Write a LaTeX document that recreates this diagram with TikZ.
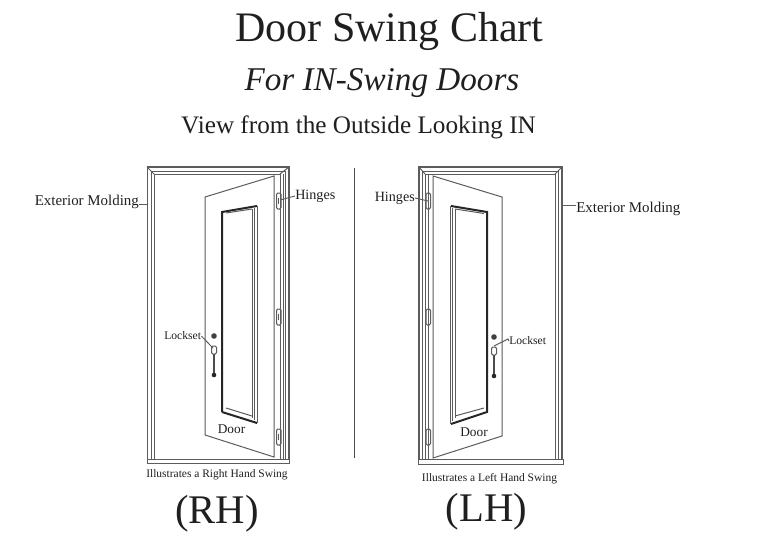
\documentclass[tikz,border=0pt]{standalone}
\usepackage{fontspec}
\setmainfont{Liberation Serif}
\definecolor{ink}{gray}{0.36}
\definecolor{txt}{gray}{0.12}
\tikzset{
  lbl/.style={inner sep=0pt,text=txt,font=\fontsize{11.2pt}{12pt}\selectfont},
  doorcap/.style={inner sep=0pt,text=txt,font=\fontsize{10pt}{11pt}\selectfont},
  hingecap/.style={inner sep=0pt,text=txt,font=\fontsize{10.6pt}{12pt}\selectfont},
  lockcap/.style={inner sep=0pt,text=txt,font=\fontsize{8.7pt}{10pt}\selectfont},
  illcap/.style={inner sep=0pt,text=txt,font=\fontsize{8.6pt}{10pt}\selectfont},
  big/.style={inner sep=0pt,text=txt,font=\fontsize{30.5pt}{32pt}\selectfont},
  thin line/.style={draw=ink,line width=0.75pt},
  med line/.style={draw=ink,line width=1.4pt},
  heavy line/.style={draw=black!85,line width=1.5pt},
  lead/.style={draw=ink,line width=0.7pt},
  divider/.style={draw=black!70,line width=0.6pt},
  handle/.style={draw=black!70,line width=2.2pt}
}
\begin{document}
\begin{tikzpicture}[x=0.75pt,y=-0.75pt]
\useasboundingbox (0,0) rectangle (768,543);
\fill[white] (0,0) rectangle (768,543);
% titles
\node[inner sep=0pt,text=txt,font=\fontsize{31.5pt}{33pt}\selectfont] (title) at (389.5,31) {Door Swing Chart};
\node[inner sep=0pt,text=txt,font=\fontsize{24.9pt}{26pt}\selectfont\itshape] (sub) at (382,83) {For IN-Swing Doors};
\node[inner sep=0pt,text=txt,font=\fontsize{18.9pt}{20pt}\selectfont] (view) at (358.5,127) {View from the Outside Looking IN};
% divider
\draw[divider] (354,168) -- (354,458);
% LEFT DOOR frame
\draw[med line] (147.5,459) -- (147.5,167) -- (289,167) -- (289,459);
\draw[thin line] (151,459) -- (151,171) -- (285,171) -- (285,459);
\draw[thin line] (154,459) -- (154,174) -- (280,174) -- (280,459);
\draw[thin line] (147,167) -- (154,174) (289,167) -- (280,174);
\draw[thin line] (283,174) -- (283,459);
\draw[thin line] (147,459) rectangle (289.5,463.5);
% left door leaf
\draw[thin line] (274,176) -- (205,197) -- (205,435) -- (274,457) -- cycle;
% left window
\draw[heavy line] (222,412) -- (222,212) -- (257,206);
\draw[heavy line] (222,412) -- (257,423);
\draw[thin line] (257,206) -- (257,423);
\draw[thin line] (252,209) -- (252,418);
\draw[thin line] (254.5,208) -- (254.5,420);
\draw[thin line] (226,213) -- (252,209);
\draw[thin line] (226,408) -- (252,416);
% left hinges
\foreach \y in {201,317,437}{
  \draw[thin line,rounded corners=1pt] (276.5,\y-8) rectangle (281,\y+8);
  \draw[thin line] (278.5,\y-3) -- (278.5,\y+3);
}
% left lockset
\fill[black!75] (214,336) circle (2.8);
\draw[thin line,rounded corners=1pt] (211.5,346) rectangle (216.5,354);
\draw[handle] (214,354) -- (214,374);
\fill[black!85] (214,375) circle (2.3);
% RIGHT DOOR frame
\draw[med line] (419,459) -- (419,167) -- (562,167) -- (562,459);
\draw[thin line] (422,459) -- (422,171) -- (558,171) -- (558,459);
\draw[thin line] (425,459) -- (425,174) -- (555,174) -- (555,459);
\draw[thin line] (419,167) -- (425,174) (562,167) -- (555,174);
\draw[thin line] (428,174) -- (428,459);
\draw[thin line] (418,459) rectangle (563,464);
% right door leaf
\draw[thin line] (433,176) -- (502,197) -- (502,436) -- (433,458) -- cycle;
% right window
\draw[heavy line] (451,206) -- (487,212) -- (487,412) -- (451,424);
\draw[thin line] (450,206) -- (450,424);
\draw[thin line] (455,209) -- (455,418);
\draw[thin line] (452.5,208) -- (452.5,421);
\draw[thin line] (455,209) -- (484,213.5);
\draw[thin line] (455,416) -- (484,408);
% right hinges
\foreach \y in {201,317,437}{
  \draw[thin line,rounded corners=1pt] (426,\y-8) rectangle (430.5,\y+8);
  \draw[thin line] (428,\y-3) -- (428,\y+3);
}
% right lockset
\fill[black!75] (494,337) circle (2.8);
\draw[thin line,rounded corners=1pt] (491.5,347) rectangle (496.5,355);
\draw[handle] (494,355) -- (494,375);
\fill[black!85] (494,376) circle (2.3);
% labels
\node[lbl,anchor=west] (extL) at (34.5,201.5) {Exterior Molding};
\coordinate (extLend) at (148,204);
\draw[lead] (extL.east |- extLend) -- (extLend);
\node[hingecap,anchor=west] (hingL) at (295,196) {Hinges};
\coordinate (hingLend) at (280,200);
\draw[lead] (hingL.west) -- (hingLend);
\node[lockcap,anchor=west] (lockL) at (164,336) {Lockset};
\coordinate (lockLend) at (213,348);
\draw[lead] (lockL.east) -- (lockLend);
\node[doorcap] (doorL) at (231.5,429) {Door};
\node[illcap] (illL) at (217,475) {Illustrates a Right Hand Swing};
\node[big] (rh) at (217,514) {(RH)};
\node[hingecap,anchor=west] (hingR) at (374.5,198) {Hinges};
\coordinate (hingRend) at (428,201);
\draw[lead] (hingR.east) -- (hingRend);
\node[lbl,anchor=west] (extR) at (576,208.5) {Exterior Molding};
\coordinate (extRend) at (562,205);
\draw[lead] (extR.west |- extRend) -- (extRend);
\node[lockcap,anchor=west] (lockR) at (509,341) {Lockset};
\coordinate (lockRend) at (494,346);
\draw[lead] (lockR.west) -- (508,339) -- (lockRend);
\node[doorcap] (doorR) at (474,432.5) {Door};
\node[illcap] (illR) at (489.5,478.5) {Illustrates a Left Hand Swing};
\node[big] (lh) at (486.5,512) {(LH)};
\end{tikzpicture}
\end{document}
